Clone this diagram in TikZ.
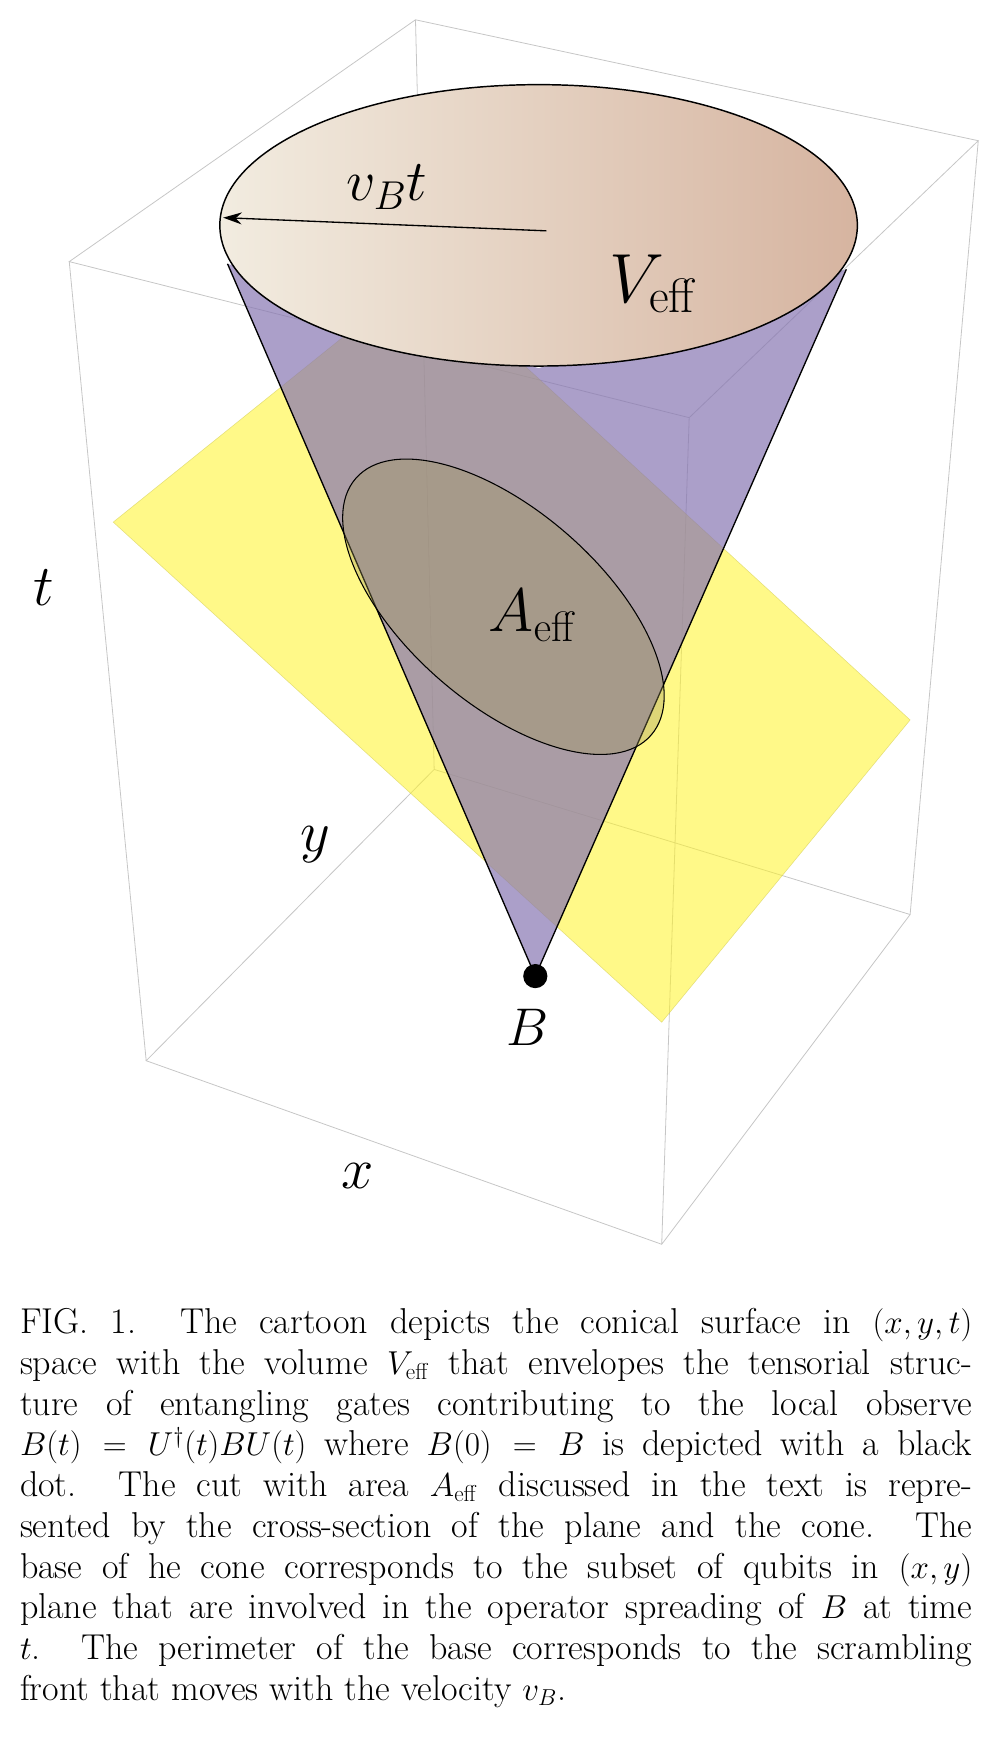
\documentclass[tikz,border=0pt]{standalone}
\usepackage{graphicx}
\usetikzlibrary{arrows.meta}
\begin{document}
\begin{tikzpicture}[x=0.029cm,y=-0.029cm,
  boxe/.style={draw=gray!45,line width=0.6pt},
  lab/.style={font=\fontsize{26}{26}\selectfont}]
\useasboundingbox (0,0) rectangle (910,1583);
% box
\coordinate (TL) at (63,238); \coordinate (TB) at (378,18); \coordinate (TR) at (890,128); \coordinate (TF) at (627,380);
\coordinate (BL) at (133,965); \coordinate (BB) at (395,700); \coordinate (BR) at (828,832); \coordinate (BF) at (602,1132);
\draw[boxe] (TL)--(TB)--(TR)--(TF)--cycle (BL)--(BB)--(BR)--(BF)--cycle (TL)--(BL) (TB)--(BB) (TR)--(BR) (TF)--(BF);
% plane
\fill[yellow!85!white,fill opacity=0.55] (103,475)--(385,248)--(828,655)--(602,930)--cycle;
\draw[yellow!60!gray,opacity=0.6] (103,475)--(385,248)--(828,655)--(602,930)--cycle;
% cone
\coordinate (apex) at (487,888);
\fill[fill={rgb,255:red,135;green,118;blue,178},fill opacity=0.7] (207,240)--(apex)--(770,245)--(490,335)--cycle;
\draw[line width=1pt] (207,240)--(apex)--(770,245);
% cut
\begin{scope}[shift={(458,552)},rotate=-41]
\draw[fill={rgb,255:red,160;green,150;blue,90},fill opacity=0.35,line width=0.8pt] (0,0) ellipse (178 and 88);
\end{scope}
% top
\shade[left color={rgb,255:red,242;green,236;blue,224},right color={rgb,255:red,214;green,180;blue,160}] (490,205) ellipse (290 and 128);
\draw[line width=1.1pt] (490,205) ellipse (290 and 128);
\coordinate (c0) at (497,210); \coordinate (c1) at (203,198);
\draw[-{Stealth[length=14pt,width=9pt]},line width=1pt] (c0)--(c1);
\fill (apex) circle (11);
\node[lab] (vb) at (352,170) {\scalebox{1.75}{$v_Bt$}};
\node[lab] (ve) at (595,258) {\scalebox{2.1}{$V_{\mathrm{eff}}$}};
\node[lab] (ae) at (485,560) {\scalebox{1.85}{$A_{\mathrm{eff}}$}};
\node[lab] (tl) at (40,535) {\scalebox{1.75}{$t$}};
\node[lab] (yl) at (287,768) {\scalebox{1.75}{$y$}};
\node[lab] (xl) at (325,1070) {\scalebox{1.75}{$x$}};
\node[lab] (bl) at (480,935) {\scalebox{1.6}{$B$}};
% caption
\node[anchor=north west,inner sep=0pt] (cap) at (18,1190) {\begin{minipage}{715pt}\fontsize{27}{30.6}\selectfont\parindent0pt\parfillskip0pt
FIG.~1.\ \ The cartoon depicts the conical surface in $(x,y,t)$\par
space with the volume $V_{\mathrm{eff}}$ that envelopes the tensorial struc-\par
ture of entangling gates contributing to the local observe\par
$B(t)=U^\dagger(t)BU(t)$ where $B(0)=B$ is depicted with a black\par
dot.\ \ The cut with area $A_{\mathrm{eff}}$ discussed in the text is repre-\par
sented by the cross-section of the plane and the cone.\ \ The\par
base of he cone corresponds to the subset of qubits in $(x,y)$\par
plane that are involved in the operator spreading of $B$ at time\par
$t$.\ \ The perimeter of the base corresponds to the scrambling\par
\parfillskip=0pt plus 1fil front that moves with the velocity $v_B$.\par
\end{minipage}};
\end{tikzpicture}
\end{document}
